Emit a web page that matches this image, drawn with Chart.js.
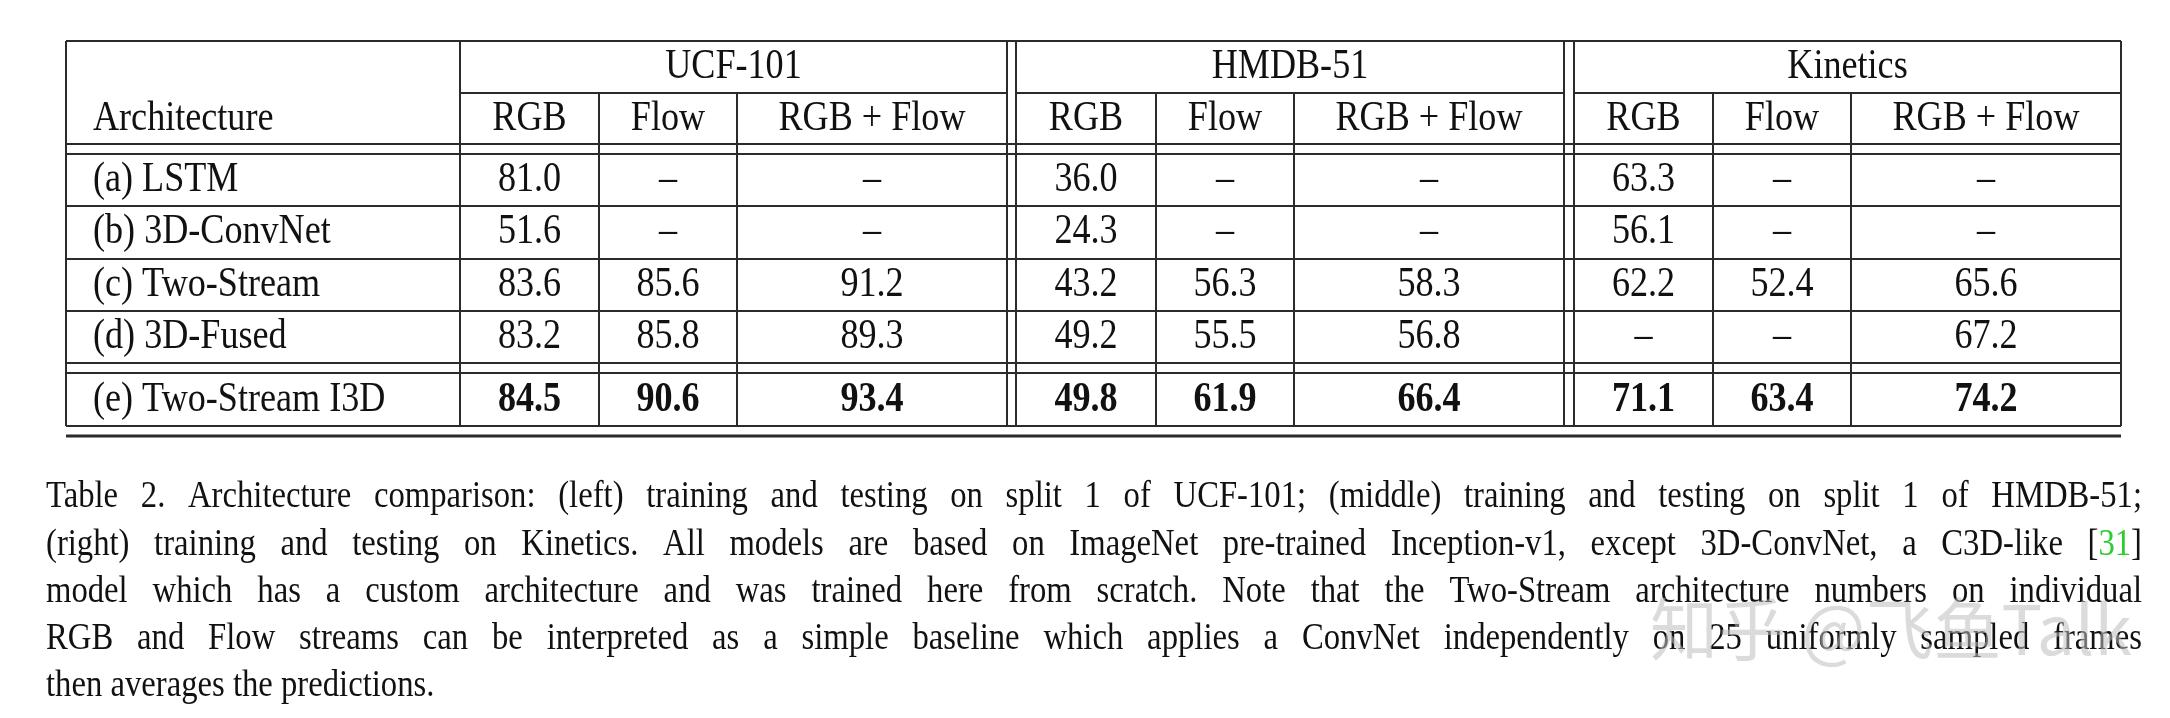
<!DOCTYPE html>
<html>
<head>
<meta charset="utf-8">
<script src="https://cdn.jsdelivr.net/npm/chart.js@4.4.0/dist/chart.umd.min.js"></script>
<style>
  html, body { margin: 0; padding: 0; background: #fff; }
</style>
</head>
<body>
<canvas id="myChart" width="2170" height="718"></canvas>
<script>
// table data
const architectures = ['(a) LSTM', '(b) 3D-ConvNet', '(c) Two-Stream', '(d) 3D-Fused', '(e) Two-Stream I3D'];
const groups = ['UCF-101', 'HMDB-51', 'Kinetics'];
const modalities = ['RGB', 'Flow', 'RGB + Flow'];
// [RGB, Flow, RGB+Flow] per row, null = dash
const ucf101 = [[81.0, null, null], [51.6, null, null], [83.6, 85.6, 91.2], [83.2, 85.8, 89.3], [84.5, 90.6, 93.4]];
const hmdb51 = [[36.0, null, null], [24.3, null, null], [43.2, 56.3, 58.3], [49.2, 55.5, 56.8], [49.8, 61.9, 66.4]];
const kinetics = [[63.3, null, null], [56.1, null, null], [62.2, 52.4, 65.6], [null, null, 67.2], [71.1, 63.4, 74.2]];
const captionLines = [
    'Table 2. Architecture comparison: (left) training and testing on split 1 of UCF-101; (middle) training and testing on split 1 of HMDB-51;',
    '(right) training and testing on Kinetics. All models are based on ImageNet pre-trained Inception-v1, except 3D-ConvNet, a C3D-like [31]',
    'model which has a custom architecture and was trained here from scratch. Note that the Two-Stream architecture numbers on individual',
    'RGB and Flow streams can be interpreted as a simple baseline which applies a ConvNet independently on 25 uniformly sampled frames',
    'then averages the predictions.'
];
const watermark = '知乎 @飞鱼Talk';

const ctx = document.getElementById('myChart');
const FONT = '"Liberation Serif", "Times New Roman", serif';
const SX = 0.86; // text looks horizontally condensed in the reference

// draw text squeezed horizontally around its anchor
function squeezed(c, txt, x, y, align) {
    c.save();
    c.translate(x, y);
    c.scale(SX, 1);
    c.textAlign = align;
    c.fillText(txt, 0, 0);
    c.restore();
}

const tablePlugin = {
    id: 'table',
    afterDraw(chart) {
        const c = chart.ctx;
        const X = v => chart.scales.x.getPixelForValue(v);
        const Y = v => chart.scales.y.getPixelForValue(v);
        const left = 66, right = 2121, archEnd = 460;
        const groupCols = [[460, 599, 737, 1007], [1016, 1156, 1294, 1564], [1574, 1713, 1851, 2121]];
        const top = 41, midH = 93, hBot = [144, 154], rows = [154, 206, 259, 311, 363], gap = 373, bot = [426, 436];

        c.save();
        c.strokeStyle = '#2b2b2b';
        c.lineWidth = 2;
        const h = (x1, x2, y) => { c.beginPath(); c.moveTo(X(x1), Y(y)); c.lineTo(X(x2), Y(y)); c.stroke(); };
        const v = (x, y1, y2) => { c.beginPath(); c.moveTo(X(x), Y(y1)); c.lineTo(X(x), Y(y2)); c.stroke(); };

        h(left, right, top);
        h(archEnd, 1007, midH); h(1016, 1564, midH); h(1574, right, midH);
        h(left, right, hBot[0]); h(left, right, hBot[1]);
        rows.slice(1).forEach(y => h(left, right, y));
        h(left, right, gap);
        h(left, right, bot[0]);
        c.lineWidth = 3; h(left, right, bot[1]); c.lineWidth = 2;

        v(left, top, bot[0]); v(right, top, bot[0]); v(archEnd, top, bot[0]);
        v(1007, top, bot[0]); v(1016, top, bot[0]);
        v(1564, top, bot[0]); v(1574, top, bot[0]);
        groupCols.forEach(g => { v(g[1], midH, bot[0]); v(g[2], midH, bot[0]); });

        c.fillStyle = '#111';
        c.textBaseline = 'middle';
        c.font = '42px ' + FONT;
        squeezed(c, 'Architecture', X(93), Y(119), 'left');

        const groupData = [ucf101, hmdb51, kinetics];
        const rowMid = [180, 232, 285, 337, 400];
        groups.forEach((g, gi) => {
            const cols = groupCols[gi];
            c.font = '42px ' + FONT;
            squeezed(c, g, X((cols[0] + cols[3]) / 2), Y(67), 'center');
            modalities.forEach((m, mi) => {
                const cx = (cols[mi] + cols[mi + 1]) / 2;
                c.font = '42px ' + FONT;
                squeezed(c, m, X(cx), Y(119), 'center');
                groupData[gi].forEach((row, ri) => {
                    const val = row[mi];
                    c.font = (ri === 4 ? 'bold ' : '') + '42px ' + FONT;
                    squeezed(c, val === null ? '–' : val.toFixed(1), X(cx), Y(rowMid[ri]), 'center');
                });
            });
        });
        c.font = '42px ' + FONT;
        architectures.forEach((a, ri) => squeezed(c, a, X(93), Y(rowMid[ri]), 'left'));

        // caption, justified
        c.font = '38px ' + FONT;
        c.textBaseline = 'alphabetic';
        const capL = 46, capR = 2142, base = [507, 555, 602, 649, 696];
        const mw = t => c.measureText(t).width * SX;
        captionLines.forEach((line, li) => {
            const words = line.split(' ');
            const w = words.reduce((s, wd) => s + mw(wd), 0);
            const last = li === captionLines.length - 1;
            const space = last ? mw(' ') : (X(capR) - X(capL) - w) / (words.length - 1);
            let x = X(capL);
            words.forEach(wd => {
                if (wd === '[31]') {
                    c.fillStyle = '#111'; squeezed(c, '[', x, Y(base[li]), 'left');
                    let xx = x + mw('[');
                    c.fillStyle = '#2ecc2e'; squeezed(c, '31', xx, Y(base[li]), 'left');
                    xx += mw('31');
                    c.fillStyle = '#111'; squeezed(c, ']', xx, Y(base[li]), 'left');
                } else {
                    c.fillStyle = '#111';
                    squeezed(c, wd, x, Y(base[li]), 'left');
                }
                x += mw(wd) + space;
            });
        });

        // watermark
        c.font = '68px "Noto Sans CJK SC", sans-serif';
        c.fillStyle = 'rgba(190,190,190,0.55)';
        c.textAlign = 'left';
        c.fillText(watermark, X(1650), Y(655));
        c.restore();
    }
};

new Chart(ctx, {
    type: 'scatter',
    data: { datasets: [{ data: [], pointRadius: 0 }] },
    options: {
        responsive: false,
        animation: false,
        devicePixelRatio: 1,
        layout: { padding: 0 },
        plugins: { legend: { display: false }, tooltip: { enabled: false } },
        scales: {
            x: { type: 'linear', min: 0, max: 2170, display: false },
            y: { type: 'linear', min: 0, max: 718, reverse: true, display: false }
        }
    },
    plugins: [tablePlugin]
});
</script>
</body>
</html>
